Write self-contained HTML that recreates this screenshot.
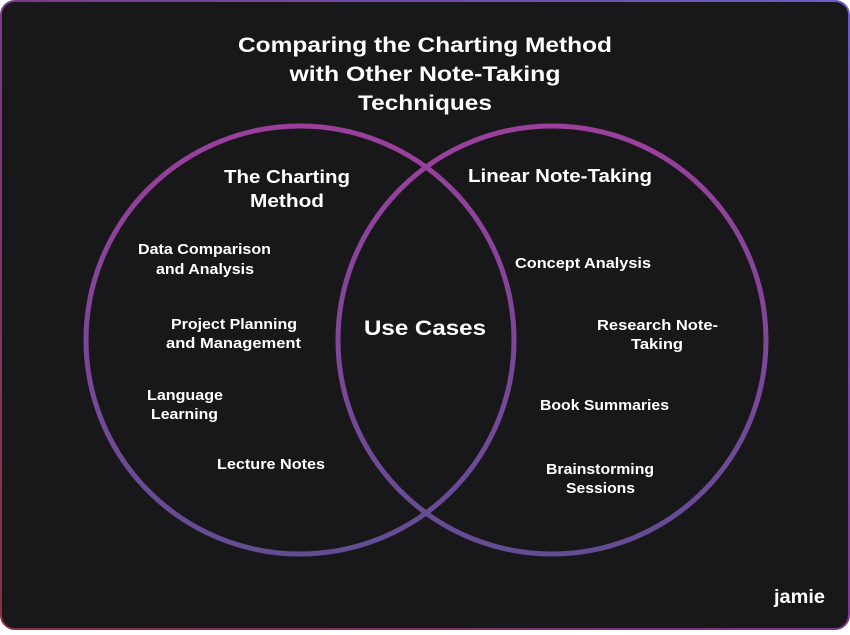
<!DOCTYPE html>
<html><head><meta charset="utf-8"><style>
html,body{margin:0;padding:0;background:#fff}
body{width:850px;height:630px;overflow:hidden}
</style></head><body>
<svg width="850" height="630" viewBox="0 0 850 630" xmlns="http://www.w3.org/2000/svg" font-family="Liberation Sans, sans-serif">
<defs>
<linearGradient id="bd" x1="1" y1="0" x2="0" y2="1">
<stop offset="0" stop-color="#6a5cc8"/><stop offset="0.5" stop-color="#7a3a8a"/><stop offset="1" stop-color="#8a2e3e"/>
</linearGradient>
<linearGradient id="cg" x1="0" y1="0" x2="0" y2="1">
<stop offset="0" stop-color="#9b3f9c"/><stop offset="1" stop-color="#624d94"/>
</linearGradient>
</defs>
<rect x="1" y="1" width="848" height="628" rx="14" fill="#18171a" stroke="url(#bd)" stroke-width="2"/>
<g fill="#fff" font-weight="bold" text-anchor="middle" lengthAdjust="spacingAndGlyphs">
<text x="425" y="52" font-size="21" textLength="374" lengthAdjust="spacingAndGlyphs">Comparing the Charting Method</text>
<text x="425" y="81" font-size="21" textLength="271" lengthAdjust="spacingAndGlyphs">with Other Note-Taking</text>
<text x="425" y="110" font-size="21" textLength="134" lengthAdjust="spacingAndGlyphs">Techniques</text>
</g>
<circle cx="300" cy="340" r="214" fill="none" stroke="url(#cg)" stroke-width="5"/>
<circle cx="552" cy="340" r="214" fill="none" stroke="url(#cg)" stroke-width="5"/>
<g fill="#fff" font-weight="bold" text-anchor="middle">
<text x="287" y="183" font-size="18" textLength="126" lengthAdjust="spacingAndGlyphs">The Charting</text>
<text x="287" y="207" font-size="18" textLength="74" lengthAdjust="spacingAndGlyphs">Method</text>
<text x="560" y="182" font-size="18" textLength="184" lengthAdjust="spacingAndGlyphs">Linear Note-Taking</text>
<text x="425" y="335" font-size="21" textLength="122" lengthAdjust="spacingAndGlyphs">Use Cases</text>
<g font-size="14.5">
<text x="204.5" y="254" textLength="133" lengthAdjust="spacingAndGlyphs">Data Comparison</text>
<text x="205" y="274" textLength="98" lengthAdjust="spacingAndGlyphs">and Analysis</text>
<text x="234" y="329" textLength="126" lengthAdjust="spacingAndGlyphs">Project Planning</text>
<text x="233.5" y="348" textLength="135" lengthAdjust="spacingAndGlyphs">and Management</text>
<text x="185" y="400" textLength="76" lengthAdjust="spacingAndGlyphs">Language</text>
<text x="184.5" y="419" textLength="67" lengthAdjust="spacingAndGlyphs">Learning</text>
<text x="271" y="469" textLength="108" lengthAdjust="spacingAndGlyphs">Lecture Notes</text>
<text x="583" y="268" textLength="136" lengthAdjust="spacingAndGlyphs">Concept Analysis</text>
<text x="657.5" y="330" textLength="121" lengthAdjust="spacingAndGlyphs">Research Note-</text>
<text x="657" y="349" textLength="52" lengthAdjust="spacingAndGlyphs">Taking</text>
<text x="604.5" y="410" textLength="129" lengthAdjust="spacingAndGlyphs">Book Summaries</text>
<text x="600" y="474" textLength="108" lengthAdjust="spacingAndGlyphs">Brainstorming</text>
<text x="600.5" y="493" textLength="69" lengthAdjust="spacingAndGlyphs">Sessions</text>
</g>
<text x="799.5" y="603" font-size="19" textLength="51" lengthAdjust="spacingAndGlyphs">jamie</text>
</g>
</svg>
</body></html>
